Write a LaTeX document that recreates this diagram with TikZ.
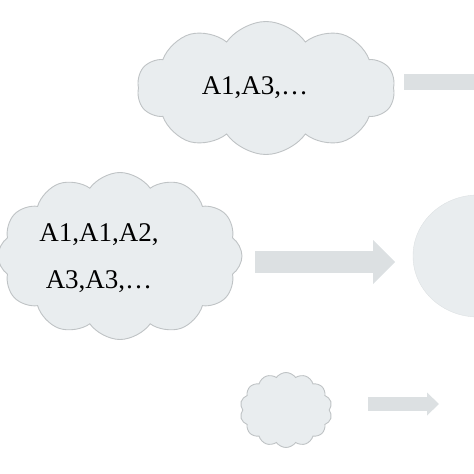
\documentclass[tikz,border=0pt]{standalone}
\usepackage{fontspec}
\setmainfont{Liberation Serif}
\usetikzlibrary{shapes.symbols,shapes.geometric,arrows.meta}
\definecolor{cloudfill}{HTML}{E9EDEF}
\definecolor{cloudline}{HTML}{BFC3C5}
\definecolor{ellipseline}{HTML}{DDE1E3}
\definecolor{arrowfill}{HTML}{DCE0E2}

\begin{document}
\begin{tikzpicture}[x=1pt,y=-1pt,
	cloudnode/.style={shape=cloud,draw=cloudline,fill=cloudfill,line width=0.9pt,cloud puff arc=110,cloud ignores aspect,inner sep=0pt},
	bigarrow/.style={color=arrowfill,line cap=butt},
	every node/.style={font=\fontsize{27}{47}\selectfont}]
	
	\useasboundingbox (0,0) rectangle (474,474);
	\clip (0,0) rectangle (474,474);
	
	\node[cloudnode,cloud puffs=10,minimum width=258pt,minimum height=133pt] (top) at (266, 88)   {};
	\node[cloudnode,cloud puffs=12,minimum width=244pt,minimum height=167pt] (mid) at (120, 256)  {};
	\node[cloudnode,cloud puffs=14,minimum width=92pt,minimum height=75pt]   (low) at (286, 410)  {};
	\node[shape=ellipse,draw=ellipseline,fill=cloudfill,minimum width=130pt,minimum height=122pt] (set) at (478, 256) {};
	
	\node (toptext) at (255, 88)                {A1,A3,…};
	\node[align=center] (midtext) at (99, 258)  {A1,A1,A2,\\A3,A3,…};
	
	\coordinate (tops) at (404, 82);
	\coordinate (tope) at (520, 82);
	\coordinate (mids) at (255, 262);
	\coordinate (mide) at (395, 262);
	\coordinate (lows) at (368, 404);
	\coordinate (lowe) at (439, 404);
	
	\draw[bigarrow,line width=16pt] (tops) -- (tope);
	\draw[bigarrow,line width=22pt,-{Triangle[length=22pt,width=44pt,line width=0pt]}] (mids) -- (mide);
	\draw[bigarrow,line width=14pt,-{Triangle[length=12pt,width=23pt,line width=0pt]}] (lows) -- (lowe);
\end{tikzpicture}
\end{document}
